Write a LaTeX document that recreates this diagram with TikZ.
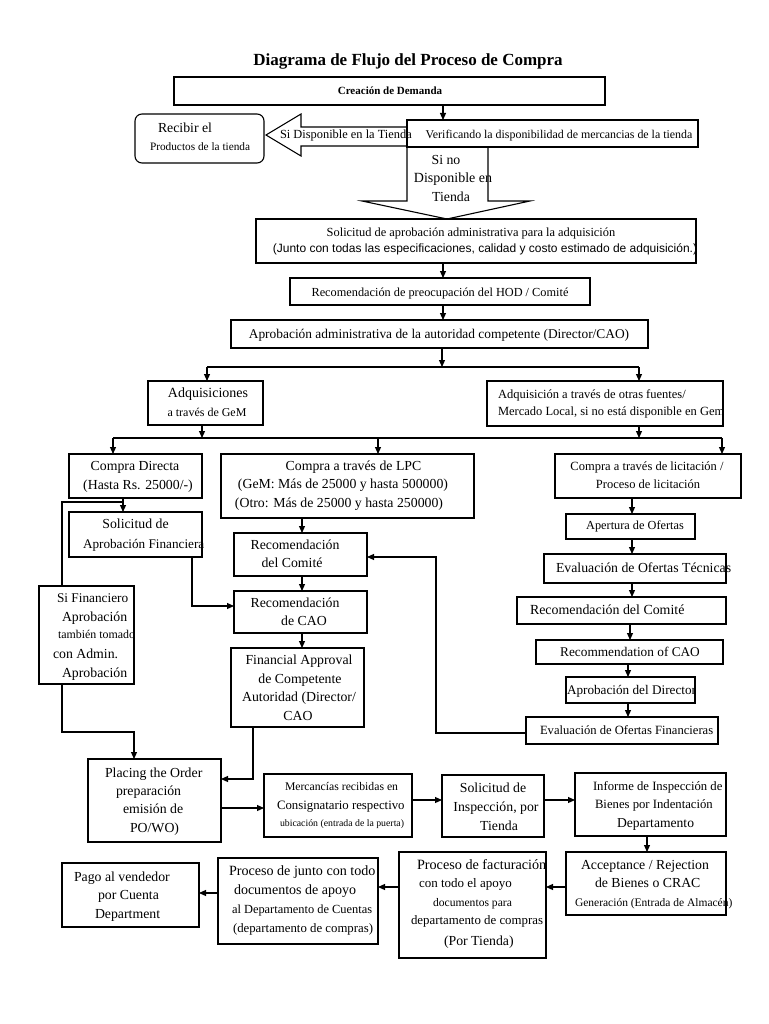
\documentclass[tikz,border=0pt]{standalone}
\usepackage{fontspec}
\setmainfont{Liberation Serif}
\newfontfamily\arialf{Liberation Sans}
\usetikzlibrary{arrows.meta,fit}
\newcommand{\fsz}[1]{\fontsize{#1pt}{#1pt}\selectfont}
\begin{document}
\begin{tikzpicture}[x=1pt,y=-1pt,
  bx/.style={draw=black, line width=1.1pt, fill=white, inner sep=0pt, outer sep=0pt},
  blk/.style={draw=black, line width=1.1pt, line join=miter},
  arr/.style={draw=black, line width=1.1pt, -{Triangle[length=7pt,width=6pt]}},
  ln/.style={draw=black, line width=1.1pt},
  tx/.style={inner sep=0pt, outer sep=0pt, text=black, anchor=mid, yshift=-2.5pt},
  tl/.style={inner sep=0pt, outer sep=0pt, text=black, anchor=mid west, yshift=-2.5pt}]
\useasboundingbox (0,0) rectangle (768,1024);
\fill[white] (0,0) rectangle (768,1024);

% block arrows
\draw[blk] (408,127) -- (301,127) -- (301,114) -- (266,135) -- (301,156) -- (301,146) -- (408,146);
\draw[blk] (407,147) -- (407,201) -- (362,201) -- (447,219) -- (530,201) -- (488,201) -- (488,147);

% boxes
\node[bx, fit={(174,77) (605,105)}] (crea) {};
\node[bx, fit={(407,120) (698,147)}] (verif) {};
\node[bx, rounded corners=7pt, fit={(135,114) (264,163)}] (recib) {};
\node[bx, fit={(256,219) (696,263)}] (solic) {};
\node[bx, fit={(290,278) (590,305)}] (hod) {};
\node[bx, fit={(231,320) (648,348)}] (aprob) {};
\node[bx, fit={(148,381) (263,425)}] (gem) {};
\node[bx, fit={(487,381) (723,426)}] (otras) {};
\node[bx, fit={(69,454) (202,498)}] (cd) {};
\node[bx, fit={(221,454) (474,518)}] (lpc) {};
\node[bx, fit={(555,454) (741,498)}] (licit) {};
\node[bx, fit={(69,512) (202,557)}] (sf) {};
\node[bx, fit={(39,586) (134,684)}] (sifin) {};
\node[bx, fit={(234,533) (367,576)}] (reccom) {};
\node[bx, fit={(234,591) (367,633)}] (reccao) {};
\node[bx, fit={(231,648) (364,727)}] (fa) {};
\node[bx, fit={(566,514) (695,539)}] (apert) {};
\node[bx, fit={(544,554) (726,583)}] (evaltec) {};
\node[bx, fit={(517,597) (726,624)}] (reccomb) {};
\node[bx, fit={(536,640) (723,664)}] (reccaob) {};
\node[bx, fit={(566,677) (695,703)}] (aprobdir) {};
\node[bx, fit={(526,717) (718,744)}] (evalfin) {};
\node[bx, fit={(88,759) (221,842)}] (placing) {};
\node[bx, fit={(264,774) (412,837)}] (merc) {};
\node[bx, fit={(442,775) (544,837)}] (solinsp) {};
\node[bx, fit={(575,773) (726,836)}] (informe) {};
\node[bx, fit={(566,852) (726,915)}] (accept) {};
\node[bx, fit={(399,852) (546,958)}] (factur) {};
\node[bx, fit={(218,858) (378,944)}] (procj) {};
\node[bx, fit={(62,863) (199,927)}] (pago) {};

% helper coordinates
\coordinate (xa) at (443,0);
\coordinate (j1) at (442,367);
\coordinate (jL) at (207,367);
\coordinate (jR) at (639,367);
\coordinate (k1) at (202,438);
\coordinate (k2) at (639,438);
\coordinate (kL) at (113,438);
\coordinate (kM) at (378,438);
\coordinate (kR) at (722,438);
\coordinate (m1) at (123,502);
\coordinate (n62) at (62,0);
\coordinate (q) at (192,606);
\coordinate (xl) at (302,0);
\coordinate (r) at (253,779);
\coordinate (s1) at (62,732);
\coordinate (s2) at (134,732);
\coordinate (xr1) at (632,0);
\coordinate (xr2) at (630,0);
\coordinate (xr3) at (628,0);
\coordinate (f1) at (436,733);
\coordinate (f2) at (436,557);
\coordinate (g1) at (0,808);
\coordinate (g2) at (0,800);
\coordinate (xi) at (647,0);
\coordinate (g3) at (0,887);
\coordinate (g4) at (0,893);

% connectors
\draw[arr] (crea.south -| xa) -- (verif.north -| xa);
\draw[arr] (solic.south -| xa) -- (hod.north -| xa);
\draw[arr] (hod.south -| xa) -- (aprob.north -| xa);
\draw[arr] (aprob.south -| j1) -- (j1);
\draw[ln] (jL) -- (jR);
\draw[arr] (jL) -- (gem.north -| jL);
\draw[arr] (jR) -- (otras.north -| jR);
\draw[arr] (gem.south -| k1) -- (k1);
\draw[arr] (otras.south -| k2) -- (k2);
\draw[ln] (kL) -- (kR);
\draw[arr] (kL) -- (cd.north -| kL);
\draw[arr] (kM) -- (lpc.north -| kM);
\draw[arr] (kR) -- (licit.north -| kR);
\draw[arr] (cd.south -| m1) -- (sf.north -| m1);
\draw[ln] (sifin.north -| n62) |- (m1);
\draw[arr] (sf.south -| q) -- (q) -- (reccao.west |- q);
\draw[arr] (lpc.south -| xl) -- (reccom.north -| xl);
\draw[arr] (reccom.south -| xl) -- (reccao.north -| xl);
\draw[arr] (reccao.south -| xl) -- (fa.north -| xl);
\draw[arr] (fa.south -| r) -- (r) -- (placing.east |- r);
\draw[arr] (sifin.south -| s1) -- (s1) -- (s2) -- (placing.north -| s2);
\draw[arr] (licit.south -| xr1) -- (apert.north -| xr1);
\draw[arr] (apert.south -| xr1) -- (evaltec.north -| xr1);
\draw[arr] (evaltec.south -| xr1) -- (reccomb.north -| xr1);
\draw[arr] (reccomb.south -| xr2) -- (reccaob.north -| xr2);
\draw[arr] (reccaob.south -| xr3) -- (aprobdir.north -| xr3);
\draw[arr] (aprobdir.south -| xr3) -- (evalfin.north -| xr3);
\draw[arr] (evalfin.west |- f1) -- (f1) -- (f2) -- (reccom.east |- f2);
\draw[arr] (placing.east |- g1) -- (merc.west |- g1);
\draw[arr] (merc.east |- g2) -- (solinsp.west |- g2);
\draw[arr] (solinsp.east |- g2) -- (informe.west |- g2);
\draw[arr] (informe.south -| xi) -- (accept.north -| xi);
\draw[arr] (accept.west |- g3) -- (factur.east |- g3);
\draw[arr] (factur.west |- g3) -- (procj.east |- g3);
\draw[arr] (procj.west |- g4) -- (pago.east |- g4);

% texts
\node[tx, font=\bfseries\fsz{17}] (title) at (408,61) {Diagrama de Flujo del Proceso de Compra};
\node[tx, font=\bfseries\fsz{11}] (t-crea) at (390,90) {Creación de Demanda};
\node[tx, font=\fsz{11.9}] (t-verif) at (559,134) {Verificando la disponibilidad de mercancias de la tienda};
\node[tl, font=\fsz{13.8}] (t-rec1) at (158,128) {Recibir el};
\node[tl, font=\fsz{11.3}] (t-rec2) at (150,146) {Productos de la tienda};
\node[tl, font=\fsz{12.4}] (t-sidisp) at (280,134) {Si Disponible en la Tienda};
\node[tx, font=\fsz{13.8}] (t-sino1) at (446,160) {Si no};
\node[tx, font=\fsz{14}] (t-sino2) at (453,178) {Disponible en};
\node[tx, font=\fsz{13.8}] (t-sino3) at (451,197) {Tienda};
\node[tx, font=\fsz{12.4}] (t-sol1) at (471,232) {Solicitud de aprobación administrativa para la adquisición};
\node[tx, font=\arialf\fsz{12}] (t-sol2) at (485,248) {(Junto con todas las especificaciones, calidad y costo estimado de adquisición.)};
\node[tx, font=\fsz{12.3}] (t-hod) at (440,292) {Recomendación de preocupación del HOD / Comité};
\node[tx, font=\fsz{13.4}] (t-aprob) at (439,334) {Aprobación administrativa de la autoridad competente (Director/CAO)};
\node[tx, font=\fsz{14}] (t-gem1) at (208,393) {Adquisiciones};
\node[tx, font=\fsz{12}] (t-gem2) at (207,412) {a través de GeM};
\node[tl, font=\fsz{12.5}] (t-otr1) at (498,394) {Adquisición a través de otras fuentes/};
\node[tl, font=\fsz{12.5}] (t-otr2) at (498,411) {Mercado Local, si no está disponible en Gem};
\node[tx, font=\fsz{13.8}] (t-cd1) at (135,466) {Compra Directa};
\node[tx, font=\fsz{13.8}] (t-cd2) at (138,485) {(Hasta Rs. 25000/-)};
\node[tx, font=\fsz{13.8}] (t-lpc1) at (353.5,466) {Compra a través de LPC};
\node[tx, font=\fsz{13.8}] (t-lpc2) at (343,484) {(GeM: Más de 25000 y hasta 500000)};
\node[tx, font=\fsz{13.8}] (t-lpc3) at (339,503) {(Otro: Más de 25000 y hasta 250000)};
\node[tx, font=\fsz{12.5}] (t-lic1) at (647,466) {Compra a través de licitación /};
\node[tx, font=\fsz{12.5}] (t-lic2) at (648,484) {Proceso de licitación};
\node[tx, font=\fsz{13.8}] (t-sf1) at (135.5,524) {Solicitud de};
\node[tl, font=\fsz{13.2}] (t-sf2) at (83,544) {Aprobación Financiera};
\node[tl, font=\fsz{13.3}] (t-sfi1) at (57,598) {Si Financiero};
\node[tl, font=\fsz{13.8}] (t-sfi2) at (62,617) {Aprobación};
\node[tl, font=\fsz{11.9}] (t-sfi3) at (58,634) {también tomado};
\node[tl, font=\fsz{13.8}] (t-sfi4) at (53,654) {con Admin.};
\node[tl, font=\fsz{13.8}] (t-sfi5) at (62,673) {Aprobación};
\node[tx, font=\fsz{13.8}] (t-rc1) at (295,545) {Recomendación};
\node[tx, font=\fsz{13.8}] (t-rc2) at (292,563) {del Comité};
\node[tx, font=\fsz{13.8}] (t-rca1) at (295,603) {Recomendación};
\node[tx, font=\fsz{13.8}] (t-rca2) at (304,621) {de CAO};
\node[tx, font=\fsz{13.8}] (t-fa1) at (299,660) {Financial Approval};
\node[tx, font=\fsz{13.8}] (t-fa2) at (300,679) {de Competente};
\node[tx, font=\fsz{13.8}] (t-fa3) at (299,697) {Autoridad (Director/};
\node[tx, font=\fsz{13.8}] (t-fa4) at (298,716) {CAO};
\node[tx, font=\fsz{12.3}] (t-ape) at (635,525) {Apertura de Ofertas};
\node[tl, font=\fsz{13.8}] (t-evt) at (556,568) {Evaluación de Ofertas Técnicas};
\node[tl, font=\fsz{13.9}] (t-rcb) at (530,610) {Recomendación del Comité};
\node[tx, font=\fsz{13.3}] (t-rcab) at (630,652) {Recommendation of CAO};
\node[tl, font=\fsz{13.2}] (t-apd) at (567,690) {Aprobación del Director};
\node[tl, font=\fsz{12.6}] (t-evf) at (540,730) {Evaluación de Ofertas Financieras};
\node[tl, font=\fsz{13.8}] (t-pl1) at (105,773) {Placing the Order};
\node[tl, font=\fsz{13.8}] (t-pl2) at (116,791) {preparación};
\node[tl, font=\fsz{13.8}] (t-pl3) at (123,809) {emisión de};
\node[tl, font=\fsz{13.8}] (t-pl4) at (130,828) {PO/WO)};
\node[tl, font=\fsz{11.7}] (t-me1) at (285,786) {Mercancías recibidas en};
\node[tl, font=\fsz{12.8}] (t-me2) at (277,805) {Consignatario respectivo};
\node[tl, font=\fsz{9.8}] (t-me3) at (280,822) {ubicación (entrada de la puerta)};
\node[tx, font=\fsz{13.8}] (t-si1) at (493,788) {Solicitud de};
\node[tx, font=\fsz{13.8}] (t-si2) at (496,807) {Inspección, por};
\node[tx, font=\fsz{13.8}] (t-si3) at (499,826) {Tienda};
\node[tl, font=\fsz{12.7}] (t-in1) at (593,786) {Informe de Inspección de};
\node[tl, font=\fsz{12.7}] (t-in2) at (595,804) {Bienes por Indentación};
\node[tl, font=\fsz{13.6}] (t-in3) at (617,823) {Departamento};
\node[tl, font=\fsz{13.8}] (t-ac1) at (581,865) {Acceptance / Rejection};
\node[tl, font=\fsz{13.8}] (t-ac2) at (595,883) {de Bienes o CRAC};
\node[tl, font=\fsz{11.5}] (t-ac3) at (575,902) {Generación (Entrada de Almacén)};
\node[tl, font=\fsz{14.2}] (t-fc1) at (417,865) {Proceso de facturación};
\node[tl, font=\fsz{13}] (t-fc2) at (419,883) {con todo el apoyo};
\node[tl, font=\fsz{11.6}] (t-fc3) at (433,902) {documentos para};
\node[tl, font=\fsz{12.85}] (t-fc4) at (411,920) {departamento de compras};
\node[tl, font=\fsz{13.8}] (t-fc5) at (444,941) {(Por Tienda)};
\node[tl, font=\fsz{14.1}] (t-pj1) at (229,871) {Proceso de junto con todo};
\node[tl, font=\fsz{14}] (t-pj2) at (234,890) {documentos de apoyo};
\node[tl, font=\fsz{12.4}] (t-pj3) at (232,909) {al Departamento de Cuentas};
\node[tl, font=\fsz{12.8}] (t-pj4) at (233,928) {(departamento de compras)};
\node[tl, font=\fsz{13.8}] (t-pa1) at (74,877) {Pago al vendedor};
\node[tl, font=\fsz{13.8}] (t-pa2) at (98,895) {por Cuenta};
\node[tl, font=\fsz{13.8}] (t-pa3) at (95,914) {Department};
\end{tikzpicture}
\end{document}
